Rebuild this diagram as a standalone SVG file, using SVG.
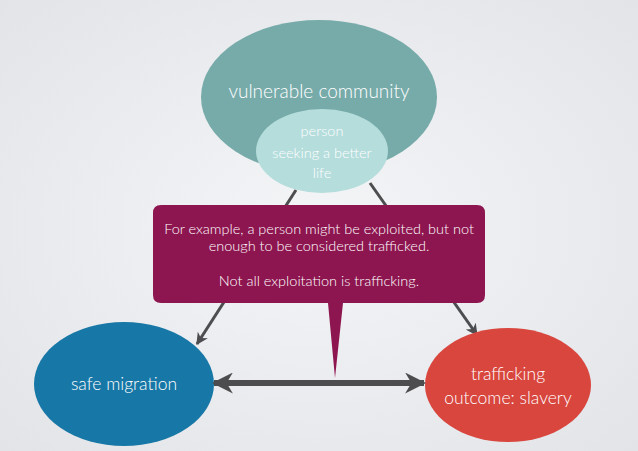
<svg xmlns="http://www.w3.org/2000/svg" width="638" height="451" viewBox="0 0 638 451">
<defs>
<radialGradient id="bg" cx="50%" cy="50%" r="70%"><stop offset="0" stop-color="#f4f5f7"/><stop offset="1" stop-color="#e2e4e8"/></radialGradient>
<marker id="ah" viewBox="0 0 10 10" refX="9" refY="5" markerWidth="4" markerHeight="4" orient="auto-start-reverse"><path d="M0,0 L10,5 L0,10 L3,5 z" fill="#4d4d4f"/></marker>
<marker id="ah2" viewBox="0 0 10 10" refX="9" refY="5" markerWidth="3.5" markerHeight="3.5" orient="auto-start-reverse"><path d="M0,0 L10,5 L0,10 L3,5 z" fill="#4d4d4f"/></marker>
</defs>
<style>text{font-family:"Lato","Open Sans",sans-serif;font-weight:300;fill:#fff;text-anchor:middle}.l{stroke:#4d4d4f;stroke-width:3;fill:none}</style>
<rect width="638" height="451" fill="url(#bg)"/>
<g id="connectors">
<line class="l" x1="296" y1="190" x2="197" y2="344" marker-end="url(#ah)"/>
<line class="l" x1="370" y1="183" x2="477" y2="335" marker-end="url(#ah)"/>
</g>
<g id="vulnerable"><ellipse cx="319" cy="97" rx="118" ry="77" fill="#77abaa"/><text x="319" y="98" font-size="19">vulnerable community</text></g>
<g id="person"><ellipse cx="322" cy="151" rx="66" ry="42" fill="#b5dddc"/>
<text x="322" y="136" font-size="14.5">person</text><text x="322" y="158" font-size="14.5">seeking a better</text><text x="322" y="178" font-size="14.5">life</text></g>
<g id="callout"><path d="M161,205 H477 Q485,205 485,213 V295 Q485,303 477,303 H343 L335,378 L328,303 H161 Q153,303 153,295 V213 Q153,205 161,205 z" fill="#8e1650"/>
<text x="319" y="234" font-size="14.5">For example, a person might be exploited, but not</text>
<text x="319" y="251" font-size="14.5">enough to be considered trafficked.</text>
<text x="319" y="286" font-size="14.5">Not all exploitation is trafficking.</text></g>
<g id="safe"><ellipse cx="124" cy="384" rx="90" ry="62" fill="#1777a6"/><text x="124" y="390" font-size="17.5">safe migration</text></g>
<g id="trafficking"><ellipse cx="508" cy="385" rx="83" ry="57" fill="#d8463e"/><text x="508" y="380" font-size="17.5">trafficking</text><text x="508" y="404" font-size="17.5">outcome: slavery</text></g>
<g id="connectors2"><line x1="214" y1="383" x2="424" y2="383" stroke="#4d4d4f" stroke-width="6" marker-start="url(#ah2)" marker-end="url(#ah2)"/></g>
</svg>
